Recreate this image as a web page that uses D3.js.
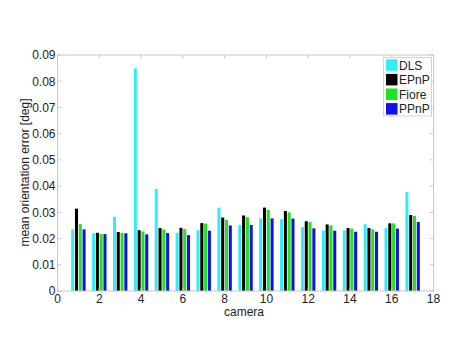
<!DOCTYPE html>
<html lang="en">
<head>
<meta charset="UTF-8" />
<title>orientation error</title>
<style>
  body { margin: 0; background: #fff; }
  text { font-family: "Liberation Sans", Arial, sans-serif; }
</style>
</head>
<body>
<svg width="474" height="355" id="mainsvg"></svg>
<script src="https://cdn.jsdelivr.net/npm/d3@7"></script>
<script>
const cameras = d3.range(1, 18)
const methods = ["DLS", "EPnP", "Fiore", "PPnP"]
const colors = ["#33ecf4", "#000000", "#22e022", "#1010e8"]

const dls = [0.0235, 0.0220, 0.0283, 0.0849, 0.0389, 0.0222, 0.0232, 0.0318, 0.0252, 0.0277, 0.0274, 0.0244, 0.0231, 0.0231, 0.0255, 0.0240, 0.0377]
const epnp = [0.0314, 0.0222, 0.0225, 0.0232, 0.0240, 0.0241, 0.0259, 0.0280, 0.0288, 0.0318, 0.0305, 0.0266, 0.0254, 0.0240, 0.0240, 0.0258, 0.0290]
const fiore = [0.0255, 0.0217, 0.0222, 0.0227, 0.0235, 0.0236, 0.0257, 0.0271, 0.0282, 0.0310, 0.0300, 0.0263, 0.0250, 0.0238, 0.0235, 0.0258, 0.0286]
const ppnp = [0.0235, 0.0217, 0.0220, 0.0216, 0.0221, 0.0213, 0.0230, 0.0250, 0.0252, 0.0277, 0.0276, 0.0239, 0.0230, 0.0226, 0.0226, 0.0238, 0.0263]
const series = [dls, epnp, fiore, ppnp]

const xTicks = d3.range(0, 19, 2)
const yTicks = d3.range(0, 0.0901, 0.01)

const svg = d3.select("#mainsvg")
const mLeft = 57.5, mRight = 433.5, mTop = 55, mBottom = 291

const x = d3.scaleLinear().domain([0, 18]).range([mLeft, mRight])
const y = d3.scaleLinear().domain([0, 0.09]).range([mBottom, mTop])

// matlab style grouped bars
const groupWidth = 4 / 5.5
const slot = groupWidth / 4
const barW = slot * 0.8

const g = svg.append("g")
series.forEach((vals, k) => {
  g.selectAll(null)
    .data(vals)
    .join("rect")
    .attr("x", (d, i) => x(cameras[i] - groupWidth / 2 + slot * k + (slot - barW) / 2))
    .attr("width", x(barW) - x(0))
    .attr("y", (d) => y(d))
    .attr("height", (d) => y(0) - y(d))
    .attr("fill", colors[k])
})

// box + ticks
const axisColor = "#c8c8c8"
svg.append("rect")
  .attr("x", mLeft).attr("y", mTop)
  .attr("width", mRight - mLeft).attr("height", mBottom - mTop)
  .attr("fill", "none").attr("stroke", axisColor).attr("stroke-width", 1)

const tl = 3.5
svg.selectAll(".xt")
  .data(xTicks)
  .join("g")
  .each(function (d) {
    const s = d3.select(this)
    s.append("line").attr("x1", x(d)).attr("x2", x(d)).attr("y1", mBottom).attr("y2", mBottom - tl).attr("stroke", axisColor)
    s.append("line").attr("x1", x(d)).attr("x2", x(d)).attr("y1", mTop).attr("y2", mTop + tl).attr("stroke", axisColor)
    s.append("text").attr("x", x(d)).attr("y", mBottom + 11.5).attr("text-anchor", "middle")
      .attr("font-size", 12).attr("fill", "#222").text(d)
  })

svg.selectAll(".yt")
  .data(yTicks)
  .join("g")
  .each(function (d) {
    const s = d3.select(this)
    s.append("line").attr("x1", mLeft).attr("x2", mLeft + tl).attr("y1", y(d)).attr("y2", y(d)).attr("stroke", axisColor)
    s.append("line").attr("x1", mRight).attr("x2", mRight - tl).attr("y1", y(d)).attr("y2", y(d)).attr("stroke", axisColor)
    s.append("text").attr("x", mLeft - 2).attr("y", y(d) + 4.3).attr("text-anchor", "end")
      .attr("font-size", 12).attr("fill", "#222").text(d === 0 ? "0" : d3.format(".2f")(d))
  })

svg.append("text")
  .attr("x", 244).attr("y", 315.5)
  .attr("text-anchor", "middle").attr("font-size", 12).attr("fill", "#222")
  .text("camera")

svg.append("text")
  .attr("transform", "translate(28.5,172.5) rotate(-90)")
  .attr("text-anchor", "middle").attr("font-size", 12).attr("fill", "#222")
  .text("mean orientation error [deg]")

// legend
const lg = svg.append("g")
lg.append("rect")
  .attr("x", 383.5).attr("y", 57.5).attr("width", 48).attr("height", 58.5)
  .attr("fill", "#fff").attr("stroke", "#d4d4d4")
methods.forEach((m, k) => {
  const cy = 65 + k * 14.6
  lg.append("rect").attr("x", 386).attr("y", cy - 5.7).attr("width", 11.5).attr("height", 11.5).attr("fill", colors[k])
  lg.append("text").attr("x", 399).attr("y", cy + 4.5).attr("font-size", 12).attr("fill", "#222").text(m)
})
</script>
</body>
</html>
